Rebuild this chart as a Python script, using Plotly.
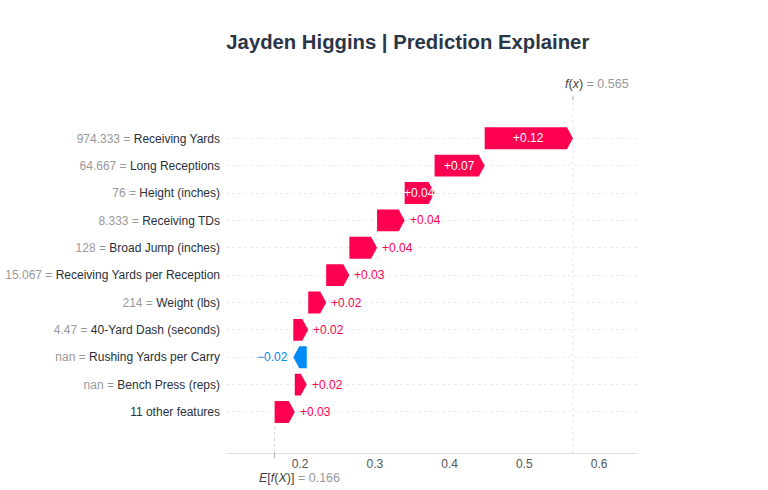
import plotly.graph_objects as go

# ---- data (bottom row first) ----
features = ["11 other features", "Bench Press (reps)", "Rushing Yards per Carry",
            "40-Yard Dash (seconds)", "Weight (lbs)", "Receiving Yards per Reception",
            "Broad Jump (inches)", "Receiving TDs", "Height (inches)",
            "Long Receptions", "Receiving Yards"]
feature_values = ["", "nan", "nan", "4.47", "214", "15.067", "128", "8.333", "76",
                  "64.667", "974.333"]
shap_values = [0.027, 0.016, -0.018, 0.020, 0.024, 0.031, 0.037, 0.037, 0.040,
               0.067, 0.118]
base_value = 0.166
f_x = 0.565
x_ticks = [0.2, 0.3, 0.4, 0.5, 0.6]

RED = "#ff0051"
BLUE = "#008bfb"
FONT = "Liberation Sans, Arial, sans-serif"

fig = go.Figure()

half_h = 0.4
head = 0.008
inside_min = 0.039

starts = []
cur = base_value
for v in shap_values:
    starts.append(cur)
    cur += v

annotations = []
shapes = []
for i, (s, v) in enumerate(zip(starts, shap_values)):
    e = s + v
    hl = min(head, abs(v))
    color = RED if v > 0 else BLUE
    if v > 0:
        xs = [s, e - hl, e, e - hl, s, s]
    else:
        xs = [s, e + hl, e, e + hl, s, s]
    ys = [i - half_h, i - half_h, i, i + half_h, i + half_h, i - half_h]
    fig.add_trace(go.Scatter(x=xs, y=ys, fill="toself", fillcolor=color,
                             mode="lines", line=dict(width=0, color=color),
                             hoverinfo="skip", showlegend=False))
    label = f"{v:+.2f}".replace("-", "\u2212")
    if abs(v) >= inside_min:
        annotations.append(dict(x=(s + e) / 2, y=i, xref="x", yref="y", text=label,
                                showarrow=False, xanchor="center",
                                font=dict(color="white", size=12, family=FONT)))
    elif v > 0:
        annotations.append(dict(x=e, y=i, xref="x", yref="y", text=label,
                                showarrow=False, xanchor="left", xshift=3,
                                font=dict(color=color, size=12, family=FONT)))
    else:
        annotations.append(dict(x=e, y=i, xref="x", yref="y", text=label,
                                showarrow=False, xanchor="right", xshift=-3,
                                font=dict(color=color, size=12, family=FONT)))
    # connector lines between consecutive bars
    if i < len(shap_values) - 1:
        shapes.append(dict(type="line", xref="x", yref="y", x0=e, x1=e,
                           y0=i - half_h, y1=i + 1 + half_h,
                           line=dict(color="#dddddd", width=0.6, dash="dot"),
                           layer="below"))

# base value line and f(x) line
shapes.append(dict(type="line", xref="x", yref="y", x0=base_value, x1=base_value,
                   y0=-1.5, y1=-half_h, line=dict(color="#cccccc", width=0.8, dash="dot"),
                   layer="below"))
shapes.append(dict(type="line", xref="x", yref="paper", x0=f_x, x1=f_x,
                   y0=0, y1=1, line=dict(color="#dddddd", width=0.8, dash="dot"),
                   layer="below"))
# small ticks
shapes.append(dict(type="line", xref="x", yref="paper", x0=base_value, x1=base_value,
                   y0=0, y1=-0.015, line=dict(color="#aaaaaa", width=1)))
shapes.append(dict(type="line", xref="x", yref="paper", x0=f_x, x1=f_x,
                   y0=1.0, y1=1.012, line=dict(color="#aaaaaa", width=1)))

# annotations for f(x) and E[f(X)]
annotations.append(dict(x=f_x, y=1, xref="x", yref="paper", xanchor="left",
                        yanchor="bottom", xshift=-10, yshift=7, showarrow=False,
                        text="<i>f</i>(<i>x</i>)<span style='color:#999999'> = "
                             f"{f_x:.3f}</span>",
                        font=dict(size=12.5, color="#444444", family=FONT)))
annotations.append(dict(x=base_value, y=0, xref="x", yref="paper", xanchor="left",
                        yanchor="top", xshift=-18, yshift=-16, showarrow=False,
                        text="<i>E</i>[<i>f</i>(<i>X</i>)]<span style='color:#999999'> = "
                             f"{base_value:.3f}</span>",
                        font=dict(size=12.5, color="#444444", family=FONT)))

tick_text = []
for name, val in zip(features, feature_values):
    if val:
        tick_text.append(f"<span style='color:#999999'>{val} = </span>{name}")
    else:
        tick_text.append(name)

fig.update_layout(
    width=768, height=490,
    margin=dict(l=226, r=130, t=100, b=37),
    paper_bgcolor="white", plot_bgcolor="white",
    title=dict(text="<b>Jayden Higgins | Prediction Explainer</b>",
               x=0.531, xref="container", xanchor="center",
               y=1 - 42 / 490, yref="container", yanchor="middle",
               font=dict(size=20.3, color="#2a3547", family=FONT)),
    xaxis=dict(range=[0.101, 0.652], tickvals=x_ticks,
               ticktext=[f"{t:.1f}" for t in x_ticks], automargin=False,
               showgrid=False, zeroline=False, showline=True,
               linecolor="#dddddd", linewidth=1, ticks="",
               tickfont=dict(size=12, color="#555555", family=FONT)),
    yaxis=dict(range=[-1.5, 11.4], tickvals=list(range(len(features))),
               ticktext=tick_text, showgrid=True, gridcolor="#ececec",
               griddash="dot", gridwidth=1, zeroline=False, showline=False,
               ticks="", ticklabelstandoff=5, automargin=False,
               tickfont=dict(size=12, color="#2a2f3a", family=FONT)),
    shapes=shapes, annotations=annotations,
)

fig.write_html("out.html")
